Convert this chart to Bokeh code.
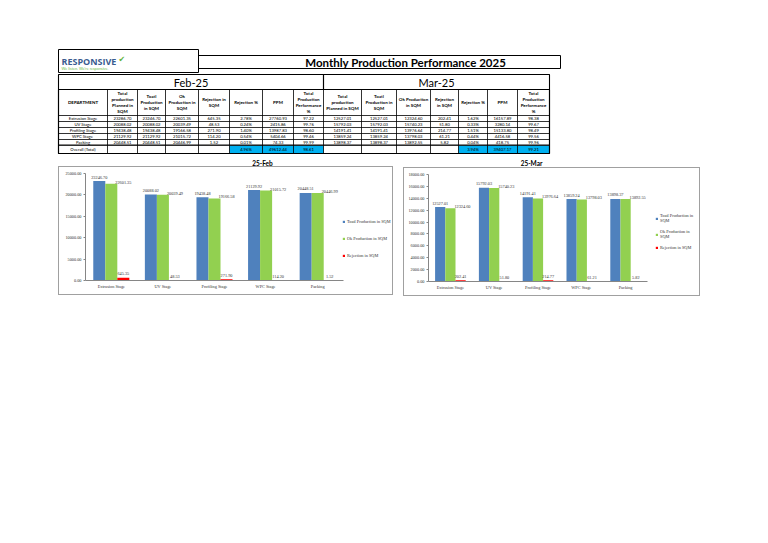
from bokeh.plotting import figure
from bokeh.models import (ColumnDataSource, Range1d, FixedTicker, PrintfTickFormatter,
                          Legend, LegendItem, Spacer)
from bokeh.layouts import column, row
from bokeh.transform import dodge
from bokeh.core.properties import value
from bokeh.embed import file_html
from bokeh.resources import INLINE

# ---------------- data ----------------
departments = ["Extrusion Stage", "UV Stage", "Profiling Stage", "WPC  Stage", "Packing"]

feb_planned = [23286.70, 20088.02, 19438.48, 21129.92, 20448.51]
feb_total = [23246.70, 20088.02, 19438.48, 21129.92, 20448.51]
feb_ok = [22601.35, 20039.49, 19166.58, 21015.72, 20446.99]
feb_rej = [645.35, 48.53, 271.90, 114.20, 1.52]
feb_rej_pct = ["2.78%", "0.24%", "1.40%", "0.54%", "0.01%"]
feb_ppm = [27760.93, 2415.86, 13987.83, 5404.66, 74.33]
feb_perf = [97.22, 99.76, 98.60, 99.46, 99.99]
feb_overall = ["4.96%", "49612.44", "98.61"]

mar_planned = [12527.01, 15792.03, 14191.41, 13859.24, 13898.37]
mar_total = [12527.01, 15792.03, 14191.41, 13859.24, 13898.37]
mar_ok = [12324.60, 15740.23, 13976.64, 13798.03, 13892.55]
mar_rej = [202.41, 51.80, 214.77, 61.21, 5.82]
mar_rej_pct = ["1.62%", "0.33%", "1.51%", "0.44%", "0.04%"]
mar_ppm = [16157.89, 3280.14, 15133.80, 4416.58, 418.75]
mar_perf = [98.38, 99.67, 98.49, 99.56, 99.96]
mar_overall = ["3.94%", "39407.17", "99.21"]

feb_headers = ["DEPARTMENT", "Total\nproduction\nPlanned in\nSQM", "Toatl\nProduction\nin SQM",
               "Ok\nProduction in\nSQM", "Rejection in\nSQM", "Rejection %", "PPM",
               "Total\nProduction\nPerformance\n%"]
mar_headers = ["Total\nproduction\nPlanned in SQM", "Toatl\nProduction in\nSQM", "Ok Production\nin SQM",
               "Rejection\nin SQM", "Rejection %", "PPM", "Total\nProduction\nPerformance\n%"]
overall_label = "Overall (Total)"
feb_series_names = ["Toatl Production in SQM", "Ok Production in SQM", "Rejection in SQM"]
mar_series_names = ["Toatl Production in\nSQM", "Ok Production in\nSQM", "Rejection in SQM"]
feb_ticks = [0, 5000, 10000, 15000, 20000, 25000]
mar_ticks = [0, 2000, 4000, 6000, 8000, 10000, 12000, 14000, 16000, 18000]

# ---------------- styles / layout ----------------
BLUE, GREEN, RED, CYAN = "#4F81BD", "#92D050", "#FF0000", "#00B0F0"
FRAME_GRAY = "#a0a0a0"
SANS = "Lato"
SERIF = "Liberation Serif"
HDR_H = 166

hdr = figure(width=768, height=HDR_H, x_range=Range1d(0, 768), y_range=Range1d(HDR_H, 0),
             output_backend="svg", toolbar_location=None, min_border=0,
             x_axis_location=None, y_axis_location=None)
hdr.grid.visible = False
hdr.outline_line_color = None
hdr.background_fill_color = "white"
hdr.border_fill_color = "white"


def box(l, r, t, b, lw=1.0, fill=None):
    hdr.quad(left=l, right=r, top=t, bottom=b, fill_color=fill, line_color="black", line_width=lw)


# logo box and title box
box(58, 198, 49, 72, lw=1.0)
box(198, 560, 55, 68, lw=1.0)
hdr.text(x=[61], y=[61], text=["RESPONSIVE"], text_font=value("Open Sans"), text_font_style="bold",
         text_font_size="9px", text_color="#3A5C8F", text_baseline="middle")
hdr.text(x=[118], y=[59], text=["\u2714"], text_font=value("DejaVu Sans"),
         text_font_size="8px", text_color="#5DB33A", text_baseline="middle")
hdr.text(x=[61], y=[67.5], text=["We listen. We're responsive."], text_font=value(SANS),
         text_font_size="3.8px", text_color="#6DBE45", text_baseline="middle")
hdr.text(x=[408], y=[62], text=["Monthly  Production  Performance 2025"], text_font=value(SANS),
         text_font_style="bold", text_font_size="11.5px", text_align="center", text_baseline="middle")

feb_cols = [58, 107, 137, 165, 198, 229, 262, 293, 323]
mar_cols = [323, 361, 396, 430, 458, 487, 517, 549]
row_edges = [89, 115, 121, 127, 133, 139, 145, 153]
top_row = (74, 89)

box(feb_cols[0], feb_cols[-1], top_row[0], top_row[1], lw=1.1)
box(mar_cols[0], mar_cols[-1], top_row[0], top_row[1], lw=1.1)
hdr.text(x=[(feb_cols[0] + feb_cols[-1]) / 2, (mar_cols[0] + mar_cols[-1]) / 2], y=[82, 82],
         text=["Feb-25", "Mar-25"], text_font=value(SANS), text_font_size="11px",
         text_align="center", text_baseline="middle")

# cyan overall cells
hdr.quad(left=[feb_cols[5], mar_cols[4]], right=[feb_cols[8], mar_cols[7]],
         top=[row_edges[6]] * 2, bottom=[row_edges[7]] * 2, fill_color=CYAN, line_color=None)

# grid lines
all_cols = feb_cols + mar_cols[1:]
xs0, xs1, ys0, ys1 = [], [], [], []
for c in all_cols:
    xs0.append(c); xs1.append(c); ys0.append(row_edges[0]); ys1.append(row_edges[-1])
for r in row_edges:
    xs0.append(all_cols[0]); xs1.append(all_cols[-1]); ys0.append(r); ys1.append(r)
hdr.segment(x0=xs0, y0=ys0, x1=xs1, y1=ys1, line_color="black", line_width=0.8)
hdr.quad(left=[all_cols[0]], right=[all_cols[-1]], top=[row_edges[0]], bottom=[row_edges[-1]],
         fill_color=None, line_color="black", line_width=1.2)
hdr.segment(x0=[all_cols[0]], y0=[row_edges[6] - 0.8], x1=[all_cols[-1]], y1=[row_edges[6] - 0.8],
            line_color="black", line_width=0.6)

hx, hy, ht = [], [], []
hmid = (row_edges[0] + row_edges[1]) / 2
for i, t in enumerate(feb_headers):
    hx.append((feb_cols[i] + feb_cols[i + 1]) / 2); hy.append(hmid); ht.append(t)
for i, t in enumerate(mar_headers):
    hx.append((mar_cols[i] + mar_cols[i + 1]) / 2); hy.append(hmid); ht.append(t)
hdr.text(x=hx, y=hy, text=ht, text_font=value(SANS), text_font_style="bold", text_font_size="4.5px",
         text_align="center", text_baseline="middle", text_line_height=1.15)


def f2(v):
    return f"{v:.2f}"


cx, cyy, ct = [], [], []
for r in range(5):
    ymid = (row_edges[r + 1] + row_edges[r + 2]) / 2
    feb_vals = [departments[r], f2(feb_planned[r]), f2(feb_total[r]), f2(feb_ok[r]), f2(feb_rej[r]),
                feb_rej_pct[r], f2(feb_ppm[r]), f2(feb_perf[r])]
    mar_vals = [f2(mar_planned[r]), f2(mar_total[r]), f2(mar_ok[r]), f2(mar_rej[r]),
                mar_rej_pct[r], f2(mar_ppm[r]), f2(mar_perf[r])]
    for i, t in enumerate(feb_vals):
        cx.append((feb_cols[i] + feb_cols[i + 1]) / 2); cyy.append(ymid); ct.append(t)
    for i, t in enumerate(mar_vals):
        cx.append((mar_cols[i] + mar_cols[i + 1]) / 2); cyy.append(ymid); ct.append(t)
ymid = (row_edges[6] + row_edges[7]) / 2
cx.append((feb_cols[0] + feb_cols[1]) / 2); cyy.append(ymid); ct.append(overall_label)
for k, t in enumerate(feb_overall):
    cx.append((feb_cols[5 + k] + feb_cols[6 + k]) / 2); cyy.append(ymid); ct.append(t)
for k, t in enumerate(mar_overall):
    cx.append((mar_cols[4 + k] + mar_cols[5 + k]) / 2); cyy.append(ymid); ct.append(t)
hdr.text(x=cx, y=cyy, text=ct, text_font=value(SANS), text_font_size="4.2px",
         text_align="center", text_baseline="middle")

# chart titles
hdr.text(x=[262, 531], y=[162.5, 162.5], text=["25-Feb", "25-Mar"], text_font=value(SANS),
         text_font_style="bold", text_font_size="6.5px", text_align="center", text_baseline="middle")


def chart(total, ok, rej, ymax, ticks, w, h, ml, mt, mb, x_end, labels, leg_loc, leg_spacing, green_dx):
    idx = list(range(len(departments)))
    src = ColumnDataSource(dict(pos=idx, total=total, ok=ok, rej=rej,
                                tl=[f2(v) for v in total], ol=[f2(v) for v in ok],
                                rl=[f2(v) for v in rej]))
    p = figure(x_range=Range1d(-0.5, x_end), y_range=Range1d(0, ymax), width=w, height=h,
               min_border_left=ml, min_border_right=0, min_border_top=mt, min_border_bottom=mb,
               output_backend="svg", toolbar_location=None)
    p.background_fill_color = "white"
    p.border_fill_color = "white"
    p.outline_line_color = None
    p.grid.visible = False
    bw = 0.233
    r1 = p.vbar(x=dodge("pos", -bw), top="total", width=bw, source=src, fill_color=BLUE, line_color=None)
    r2 = p.vbar(x=dodge("pos", 0), top="ok", width=bw, source=src, fill_color=GREEN, line_color=None)
    r3 = p.vbar(x=dodge("pos", bw), top="rej", width=bw, source=src, fill_color=RED, line_color=None)
    common = dict(source=src, text_font=value(SERIF), text_font_size="4.3px", text_color="#333333")
    p.text(x=dodge("pos", -bw), y="total", text="tl", text_align="center",
           text_baseline="bottom", y_offset=-2.5, **common)
    p.text(x=dodge("pos", 0), y="ok", text="ol", text_align="left",
           text_baseline="bottom", x_offset=green_dx, y_offset=0, **common)
    p.text(x=dodge("pos", bw), y="rej", text="rl", text_align="center",
           text_baseline="bottom", y_offset=-2.5, **common)

    p.yaxis.ticker = FixedTicker(ticks=ticks)
    p.yaxis.formatter = PrintfTickFormatter(format="%.2f")
    p.xaxis.ticker = FixedTicker(ticks=idx)
    p.xaxis.major_label_overrides = {i: d for i, d in enumerate(departments)}
    p.xaxis.bounds = (-0.5, len(departments) - 0.5)
    for ax in (p.xaxis[0], p.yaxis[0]):
        ax.axis_line_color = "#868686"
        ax.major_tick_line_color = "#868686"
        ax.minor_tick_line_color = None
        ax.major_label_text_font = SERIF
        ax.major_label_text_font_size = "4.3px"
        ax.major_label_text_color = "#333333"
    p.yaxis.major_tick_out = 2
    p.yaxis.major_tick_in = 0
    p.yaxis.major_label_standoff = 2
    p.xaxis.major_tick_out = 0
    p.xaxis.major_tick_in = 0
    p.xaxis.major_label_standoff = 3

    legend = Legend(items=[LegendItem(label=labels[0], renderers=[r1]),
                           LegendItem(label=labels[1], renderers=[r2]),
                           LegendItem(label=labels[2], renderers=[r3])],
                    location=leg_loc, orientation="vertical", glyph_width=3, glyph_height=3,
                    label_text_font=SERIF, label_text_font_size="4.3px", label_text_color="#333333",
                    label_height=4, label_standoff=2, spacing=leg_spacing, padding=0, margin=0,
                    border_line_color=None, background_fill_alpha=0)
    p.add_layout(legend, "center")
    return p


def framed(p, w, h):
    hl = lambda: Spacer(width=w + 2, height=1, styles={"background-color": FRAME_GRAY})
    vl = lambda: Spacer(width=1, height=h, styles={"background-color": FRAME_GRAY})
    return column(hl(), row(vl(), p, vl()), hl())


# Feb chart: block 58..393, 166..295
feb_fig = chart(feb_total, feb_ok, feb_rej, 25000, feb_ticks, 333, 127, 26, 6, 14,
                -0.5 + 307 / 51.6, feb_series_names, (257, 22), 12, 4)
# Mar chart: block 403..700, 167..296
mar_fig = chart(mar_total, mar_ok, mar_rej, 18000, mar_ticks, 295, 127, 24, 6, 14,
                -0.5 + 271 / 43.8, mar_series_names, (227, 31), 6, 4)

layout = column(hdr,
                row(Spacer(width=58, height=10), framed(feb_fig, 333, 127), Spacer(width=10, height=10),
                    column(Spacer(width=10, height=1), framed(mar_fig, 295, 127))))

open("out.html", "w").write(file_html(layout, INLINE))
